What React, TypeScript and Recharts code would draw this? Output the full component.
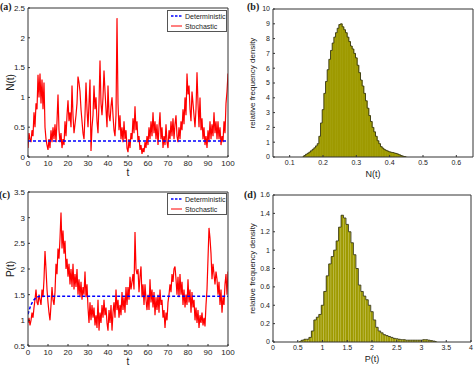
import {
  ComposedChart,
  LineChart,
  Line,
  Bar,
  Area,
  XAxis,
  YAxis,
  Legend,
} from "recharts";

const FONT = '"Liberation Sans", Arial, sans-serif';
const SERIF = '"Liberation Serif", "Times New Roman", serif';
const RED = "#ff0000";
const BLUE = "#0000ff";
const FRAME = "#333333";
const INK = "#222222";
const OLIVE = "#9e9a00";
const OLIVE_LIGHT = "#d6d27e";
const OUTLINE = "#2b2b12";

// time grid of the simulated paths
const T_STEP = 0.5;
const T_TICKS = [0, 10, 20, 30, 40, 50, 60, 70, 80, 90, 100];

// (a) N(t), stochastic path
const nStochastic = [
  0.15, 0.4, 0.3, 0.25, 0.45, 0.35, 0.75, 0.5, 0.9, 0.8,
  1.38, 1.0, 1.4, 0.9, 1.3, 0.8, 1.25, 0.5, 0.3, 0.2,
  0.12, 0.3, 0.15, 0.45, 0.25, 0.5, 0.3, 0.55, 0.25, 0.6,
  1.05, 0.45, 0.25, 0.4, 0.15, 0.3, 0.2, 0.6, 0.35, 0.7,
  0.95, 0.6, 0.75, 0.5, 1.2, 0.7, 0.4, 0.55, 0.7, 0.9,
  1.35, 1.25, 1.1, 0.8, 0.6, 0.4, 0.3, 0.7, 1.25, 0.8,
  0.5, 0.9, 1.3, 0.1, 0.5, 0.7, 1.2, 0.8, 1.0, 0.6,
  0.4, 0.9, 1.62, 0.9, 0.7, 1.0, 1.45, 1.1, 0.8, 0.5,
  1.2, 0.7, 0.6, 0.85, 1.0, 0.7, 0.45, 0.35, 0.7, 2.33,
  0.9, 0.45, 0.7, 0.3, 0.5, 0.25, 0.6, 0.3, 0.45, 0.15,
  0.08, 0.3, 0.15, 0.4, 0.3, 0.65, 0.4, 0.85, 0.45, 0.6,
  0.25, 0.35, 0.12, 0.2, 0.05, 0.15, 0.08, 0.25, 0.15, 0.35,
  0.2, 0.5, 0.3, 0.6, 0.35, 0.75, 0.4, 0.6, 0.3, 0.55,
  0.2, 0.5, 0.75, 0.3, 0.5, 0.15, 0.35, 0.2, 0.55, 0.25,
  0.15, 0.45, 0.3, 0.6, 0.35, 0.65, 0.3, 0.55, 0.7, 0.35,
  0.25, 0.5, 0.3, 0.6, 0.45, 0.8, 0.55, 1.0, 0.7, 1.4,
  1.05, 1.2, 0.8, 0.6, 1.1, 0.9, 0.7, 0.5, 0.8, 1.42,
  0.9, 0.5, 1.0, 0.45, 0.65, 0.3, 0.5, 0.2, 0.35, 0.15,
  0.45, 0.25, 0.6, 0.3, 0.55, 0.35, 0.75, 0.4, 0.6, 0.3,
  0.6, 0.3, 0.5, 0.2, 0.35, 0.25, 0.6, 0.4, 0.9, 1.1,
  1.4,
];
// (a) deterministic N(t): [t, value]
const nDeterministic = [
  [0, 0.27],
  [100, 0.27],
];

// (c) P(t), stochastic path
const pStochastic = [
  0.95, 1.05, 0.9, 1.0, 1.15, 1.05, 1.25, 1.4, 1.6, 1.35,
  1.3, 1.5, 1.4, 1.3, 1.6, 1.45, 1.8, 2.35, 2.0, 1.6,
  1.35, 1.15, 1.0, 1.3, 1.65, 1.4, 1.3, 1.55, 2.1, 1.9,
  2.4, 2.2, 2.6, 3.1, 2.4, 2.75, 2.3, 2.55, 2.0, 2.2,
  1.85, 2.1, 1.7, 2.0, 1.65, 2.1, 1.6, 1.9, 1.65, 2.0,
  1.5, 1.8, 1.45, 1.75, 1.4, 1.65, 1.5, 1.95, 1.45, 1.7,
  1.25, 0.95, 1.35, 1.0, 1.3, 1.05, 1.25, 0.9, 1.1, 0.85,
  1.4, 0.8, 1.15, 0.95, 1.3, 1.05, 1.4, 1.1, 1.25, 0.95,
  0.8, 1.2, 0.95, 1.3, 0.8, 1.15, 1.35, 1.05, 1.6, 1.2,
  1.4, 1.05, 1.3, 1.1, 1.55, 1.2, 1.45, 1.15, 1.65, 1.3,
  1.65, 1.4, 1.85, 1.6, 1.75, 1.9, 1.6, 2.72, 2.0, 1.9,
  2.0, 1.55, 1.85, 2.05, 1.45, 1.7, 1.3, 1.7, 1.4, 1.2,
  1.5, 1.2, 1.8, 1.35, 1.6, 1.25, 1.55, 1.1, 1.45, 1.2,
  1.5, 1.15, 1.6, 1.3, 1.4, 1.05, 1.2, 0.85, 1.15, 1.0,
  1.35, 1.5, 1.7, 1.55, 1.9, 1.75, 2.0, 2.05, 1.8, 1.5,
  1.85, 1.45, 1.9, 1.5, 1.75, 1.3, 1.6, 1.25, 1.5, 1.3,
  1.8, 1.35, 1.6, 1.15, 1.55, 1.25, 1.4, 1.0, 1.25, 0.95,
  1.2, 0.85, 1.1, 0.95, 1.15, 0.9, 1.05, 0.88, 1.3, 1.6,
  2.2, 2.8, 2.6, 2.3, 1.8, 2.1, 1.9, 1.7, 1.95, 1.8,
  1.5, 1.75, 1.3, 1.6, 1.15, 1.45, 1.3, 1.7, 1.9, 1.5,
  1.95,
];
// (c) deterministic P(t): [t, value]
const pDeterministic = [
  [0, 1.12],
  [1, 1.25],
  [2, 1.34],
  [3, 1.4],
  [4, 1.44],
  [5, 1.46],
  [6, 1.47],
  [100, 1.47],
];

// (b) histogram of N(t)
const N_BIN_START = 0.14;
const N_BIN_WIDTH = 0.005;
const nDensity = [
  0.03, 0.1, 0.18, 0.25, 0.33, 0.42, 0.52, 0.62, 0.75, 0.9,
  1.4, 2.3, 3.2, 4.3, 5.1, 5.9, 6.6, 7.2, 7.7, 8.1,
  8.4, 8.7, 8.95, 9.0, 8.8, 8.6, 8.4, 8.1, 7.8, 7.5,
  7.3, 7.0, 6.7, 6.2, 5.7, 5.2, 4.8, 4.3, 3.8, 3.3,
  2.8, 2.4, 2.0, 1.7, 1.4, 1.1, 0.9, 0.7, 0.6, 0.5,
  0.45, 0.4, 0.35, 0.32, 0.3, 0.27, 0.24, 0.2, 0.15, 0.1,
  0.06, 0.03, 0.01,
];
const nHistTicksX = [0.1, 0.2, 0.3, 0.4, 0.5, 0.6];
const nHistTicksY = [0, 1, 2, 3, 4, 5, 6, 7, 8, 9, 10];

// (d) histogram of P(t)
const P_BIN_START = 0.55;
const P_BIN_WIDTH = 0.05;
const pDensity = [
  0.01, 0.02, 0.03, 0.03, 0.05, 0.12, 0.24, 0.27, 0.3, 0.4,
  0.55, 0.72, 0.85, 0.93, 1.0, 1.1, 1.25, 1.38, 1.35, 1.28,
  1.2, 1.08, 0.95, 0.8, 0.62, 0.55, 0.5, 0.46, 0.4, 0.33,
  0.24, 0.16, 0.12, 0.1, 0.08, 0.07, 0.06, 0.05, 0.04, 0.035,
  0.03, 0.025, 0.025, 0.02, 0.02, 0.02, 0.02, 0.02, 0.02, 0.02,
  0.025, 0.025, 0.02, 0.015, 0.01, 0.005,
];
const pHistTicksX = [0, 0.5, 1, 1.5, 2, 2.5, 3, 3.5, 4];
const pHistTicksY = [0, 0.2, 0.4, 0.6, 0.8, 1, 1.2, 1.4, 1.6];

const nPath = nStochastic.map((v, i) => ({ t: i * T_STEP, v }));
const pPath = pStochastic.map((v, i) => ({ t: i * T_STEP, v }));
const nDet = nDeterministic.map(([t, v]) => ({ t, v }));
const pDet = pDeterministic.map(([t, v]) => ({ t, v }));
const nHist = nDensity.map((d, i) => ({
  x: Math.round((N_BIN_START + i * N_BIN_WIDTH) * 1000) / 1000,
  d,
}));
const pHist = pDensity.map((d, i) => ({
  x: Math.round((P_BIN_START + i * P_BIN_WIDTH) * 100) / 100,
  d,
}));

type FrameOpts = {
  xDomain: [number, number];
  xTicks: number[];
  yDomain: [number, number];
  yTicks: number[];
  xHeight: number;
  yWidth: number;
  tickSize: number;
  xTickMargin: number;
  xLabel: string;
  xLabelSize: number;
  xLabelOffset: number;
  yLabel: string;
  yLabelSize: number;
  yLabelOffset: number;
  xKey: string;
};

// MATLAB style box: inward ticks on all four sides
function frameAxes(o: FrameOpts) {
  const tick = { fontSize: o.tickSize, fill: INK, fontFamily: FONT };
  return [
    <XAxis
      key="xb"
      dataKey={o.xKey}
      type="number"
      domain={o.xDomain}
      ticks={o.xTicks}
      interval={0}
      allowDataOverflow
      height={o.xHeight}
      stroke={FRAME}
      tickSize={-2}
      tickMargin={o.xTickMargin}
      tick={tick}
      label={{
        value: o.xLabel,
        position: "insideBottom",
        offset: o.xLabelOffset,
        fontSize: o.xLabelSize,
        fill: INK,
        fontFamily: FONT,
      }}
    />,
    <XAxis
      key="xt"
      xAxisId="top"
      orientation="top"
      type="number"
      domain={o.xDomain}
      ticks={o.xTicks}
      interval={0}
      allowDataOverflow
      height={1}
      stroke={FRAME}
      tickSize={-2}
      tick={false}
    />,
    <YAxis
      key="yl"
      type="number"
      domain={o.yDomain}
      ticks={o.yTicks}
      interval={0}
      allowDataOverflow
      width={o.yWidth}
      stroke={FRAME}
      tickSize={-2}
      tickMargin={5}
      tick={tick}
      label={{
        value: o.yLabel,
        angle: -90,
        position: "insideLeft",
        offset: o.yLabelOffset,
        fontSize: o.yLabelSize,
        fill: INK,
        fontFamily: FONT,
        style: { textAnchor: "middle" },
      }}
    />,
    <YAxis
      key="yr"
      yAxisId="right"
      orientation="right"
      type="number"
      domain={o.yDomain}
      ticks={o.yTicks}
      interval={0}
      allowDataOverflow
      width={1}
      stroke={FRAME}
      tickSize={-2}
      tick={false}
    />,
  ];
}

function LegendBox() {
  const row = { display: "flex", alignItems: "center", height: 10 };
  return (
    <div
      style={{
        width: 60,
        height: 22,
        boxSizing: "border-box",
        border: "1px solid #555",
        background: "#fff",
        fontFamily: FONT,
        fontSize: 7,
        color: INK,
        padding: "0 0 0 3px",
      }}
    >
      <div style={row}>
        <svg width={11} height={4}>
          <line x1={0} y1={2} x2={11} y2={2} stroke={BLUE} strokeWidth={1.5} strokeDasharray="2.5 1.5" />
        </svg>
        <span style={{ marginLeft: 3 }}>Deterministic</span>
      </div>
      <div style={row}>
        <svg width={11} height={4}>
          <line x1={0} y1={2} x2={11} y2={2} stroke={RED} strokeWidth={1} />
        </svg>
        <span style={{ marginLeft: 3 }}>Stochastic</span>
      </div>
    </div>
  );
}

function PanelTag({ text, left, top }: { text: string; left: number; top: number }) {
  return (
    <div
      style={{
        position: "absolute",
        left,
        top,
        fontFamily: SERIF,
        fontWeight: "bold",
        fontSize: 10,
        lineHeight: "10px",
        color: INK,
      }}
    >
      {text}
    </div>
  );
}

function PathPanel({
  path,
  det,
  yDomain,
  yTicks,
  yLabel,
  height,
  top,
  xHeight,
  legendTop,
}: {
  path: { t: number; v: number }[];
  det: { t: number; v: number }[];
  yDomain: [number, number];
  yTicks: number[];
  yLabel: string;
  height: number;
  top: number;
  xHeight: number;
  legendTop: number;
}) {
  return (
    <LineChart width={237} height={height} margin={{ top, right: 8, bottom: 0, left: 0 }}>
      {frameAxes({
        xDomain: [0, 100],
        xTicks: T_TICKS,
        yDomain,
        yTicks,
        xHeight,
        yWidth: 28,
        tickSize: 8,
        xTickMargin: 5,
        xLabel: "t",
        xLabelSize: 10,
        xLabelOffset: xHeight - 19,
        yLabel,
        yLabelSize: 10,
        yLabelOffset: 10,
        xKey: "t",
      })}
      <Line
        data={path}
        dataKey="v"
        type="linear"
        stroke={RED}
        strokeWidth={1.2}
        dot={false}
        isAnimationActive={false}
      />
      <Line
        data={det}
        dataKey="v"
        type="linear"
        stroke={BLUE}
        strokeWidth={1.5}
        strokeDasharray="3 2"
        dot={false}
        isAnimationActive={false}
      />
      <Legend
        layout="vertical"
        align="center"
        verticalAlign="middle"
        content={() => <LegendBox />}
        wrapperStyle={{ left: 167, top: legendTop, width: 60, height: 22 }}
      />
    </LineChart>
  );
}

function HistPanel({
  data,
  xDomain,
  xTicks,
  yDomain,
  yTicks,
  xLabel,
  height,
  top,
  right,
  xHeight,
}: {
  data: { x: number; d: number }[];
  xDomain: [number, number];
  xTicks: number[];
  yDomain: [number, number];
  yTicks: number[];
  xLabel: string;
  height: number;
  top: number;
  right: number;
  xHeight: number;
}) {
  return (
    <ComposedChart
      width={237}
      height={height}
      data={data}
      margin={{ top, right, bottom: 0, left: 0 }}
      barCategoryGap={0}
      barGap={0}
    >
      {frameAxes({
        xDomain,
        xTicks,
        yDomain,
        yTicks,
        xHeight,
        yWidth: 36,
        tickSize: 7,
        xTickMargin: 5,
        xLabel,
        xLabelSize: 9,
        xLabelOffset: xHeight - 20,
        yLabel: "relative frequency density",
        yLabelSize: 8,
        yLabelOffset: 15,
        xKey: "x",
      })}
      <Area
        dataKey="d"
        type="step"
        fill={OLIVE_LIGHT}
        fillOpacity={1}
        stroke="none"
        isAnimationActive={false}
      />
      <Bar dataKey="d" fill={OLIVE} isAnimationActive={false} />
      <Line
        dataKey="d"
        type="step"
        stroke={OUTLINE}
        strokeWidth={0.8}
        dot={false}
        isAnimationActive={false}
      />
    </ComposedChart>
  );
}

export default function App() {
  return (
    <div
      style={{
        position: "absolute",
        left: 0,
        top: 0,
        width: 474,
        height: 367,
        background: "#fff",
        overflow: "hidden",
      }}
    >
      <div style={{ position: "absolute", left: 0, top: 0 }}>
        <PathPanel
          path={nPath}
          det={nDet}
          yDomain={[0, 2.5]}
          yTicks={[0, 0.5, 1, 1.5, 2, 2.5]}
          yLabel="N(t)"
          height={180}
          top={7}
          xHeight={23}
          legendTop={10}
        />
      </div>
      <div style={{ position: "absolute", left: 237, top: 0 }}>
        <HistPanel
          data={nHist}
          xDomain={[0.05, 0.65]}
          xTicks={nHistTicksX}
          yDomain={[0, 10]}
          yTicks={nHistTicksY}
          xLabel="N(t)"
          height={180}
          top={8}
          right={0}
          xHeight={23}
        />
      </div>
      <div style={{ position: "absolute", left: 0, top: 180 }}>
        <PathPanel
          path={pPath}
          det={pDet}
          yDomain={[0.5, 3.5]}
          yTicks={[0.5, 1, 1.5, 2, 2.5, 3, 3.5]}
          yLabel="P(t)"
          height={187}
          top={11}
          xHeight={21}
          legendTop={13}
        />
      </div>
      <div style={{ position: "absolute", left: 237, top: 180 }}>
        <HistPanel
          data={pHist}
          xDomain={[0, 4]}
          xTicks={pHistTicksX}
          yDomain={[0, 1.6]}
          yTicks={pHistTicksY}
          xLabel="P(t)"
          height={187}
          top={14}
          right={2}
          xHeight={25}
        />
      </div>
      <PanelTag text="(a)" left={0} top={2} />
      <PanelTag text="(b)" left={247} top={2} />
      <PanelTag text="(c)" left={-1} top={190} />
      <PanelTag text="(d)" left={244} top={190} />
    </div>
  );
}
